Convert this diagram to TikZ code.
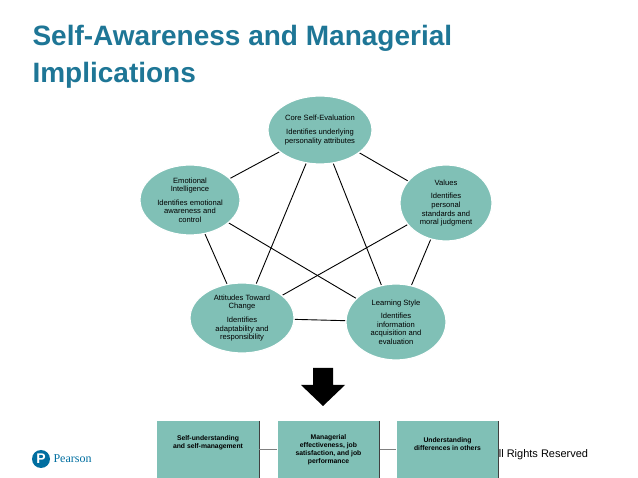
\documentclass[tikz,border=0pt]{standalone}
\usepackage{fontspec}
\setmainfont{Liberation Sans}
\usetikzlibrary{shapes.geometric}
\definecolor{titleblue}{RGB}{30,118,150}
\definecolor{teal1}{RGB}{128,192,182}
\definecolor{pblue}{RGB}{0,110,160}
\begin{document}
\begin{tikzpicture}[x=1pt,y=-1pt,
  ell/.style={ellipse,fill=teal1,draw=white,line width=1.2pt,inner sep=0pt,align=center,font=\fontsize{7.6}{8.6}\selectfont},
  bx/.style={rectangle,fill=teal1,minimum width=102pt,minimum height=58pt,inner sep=2pt,align=center,font=\bfseries\fontsize{6.8}{8}\selectfont},
  ln/.style={line width=0.9pt,black}]
\useasboundingbox (0,0) rectangle (638,478);
\node[anchor=west,font=\bfseries\fontsize{28}{30}\selectfont,text=titleblue] (t1) at (29,38) {Self-Awareness and Managerial};
\node[anchor=west,font=\bfseries\fontsize{28}{30}\selectfont,text=titleblue] (t2) at (29,75) {Implications};
\node[ell,minimum width=104pt,minimum height=68pt] (core) at (320,130) {Core Self-Evaluation\\[5pt]Identifies underlying\\personality attributes};
\node[ell,minimum width=100pt,minimum height=70pt] (emo) at (190,200) {Emotional\\Intelligence\\[5pt]Identifies emotional\\awareness and\\control};
\node[ell,minimum width=92pt,minimum height=76pt] (val) at (446,203) {Values\\[5pt]Identifies\\personal\\standards and\\moral judgment};
\node[ell,minimum width=104pt,minimum height=70pt] (att) at (242,318) {Attitudes Toward\\Change\\[5pt]Identifies\\adaptability and\\responsibility};
\node[ell,minimum width=100pt,minimum height=76pt] (lrn) at (396,322) {Learning Style\\[5pt]Identifies\\information\\acquisition and\\evaluation};
\draw[ln] (core) -- (emo);
\draw[ln] (core) -- (val);
\draw[ln] (emo) -- (att);
\draw[ln] (val) -- (lrn);
\draw[ln] (att) -- (lrn);
\draw[ln] (core) -- (att);
\draw[ln] (core) -- (lrn);
\draw[ln] (emo) -- (lrn);
\draw[ln] (val) -- (att);
\node[ell,minimum width=104pt,minimum height=68pt] at (core) {Core Self-Evaluation\\[5pt]Identifies underlying\\personality attributes};
\node[ell,minimum width=100pt,minimum height=70pt] at (emo) {Emotional\\Intelligence\\[5pt]Identifies emotional\\awareness and\\control};
\node[ell,minimum width=92pt,minimum height=76pt] at (val) {Values\\[5pt]Identifies\\personal\\standards and\\moral judgment};
\node[ell,minimum width=104pt,minimum height=70pt] at (att) {Attitudes Toward\\Change\\[5pt]Identifies\\adaptability and\\responsibility};
\node[ell,minimum width=100pt,minimum height=76pt] at (lrn) {Learning Style\\[5pt]Identifies\\information\\acquisition and\\evaluation};
\fill[black] (313,368) -- (333,368) -- (333,385) -- (345,385) -- (323,406) -- (301,385) -- (313,385) -- cycle;
\node[anchor=west,font=\fontsize{11}{12}\selectfont] (rr) at (488,455) {All Rights Reserved};
\node[bx] (b1) at (208,450) {Self-understanding\\and self-management\\[8pt]};
\node[bx] (b2) at (328.5,450) {Managerial\\effectiveness, job\\satisfaction, and job\\performance};
\node[bx] (b3) at (447.5,450) {Understanding\\differences in others\\[4pt]};
\foreach \b in {b1,b2,b3}{\draw[line width=1pt,black!75] (\b.north east) -- (\b.south east);}
\draw[line width=1pt,gray] (b1) -- (b2);
\draw[line width=1pt,gray] (b2) -- (b3);
\node[circle,fill=pblue,minimum size=18pt,inner sep=0pt,text=white,font=\bfseries\fontsize{14}{14}\selectfont] (logo) at (41,459) {P};
\node[anchor=west,text=pblue,font=\fontsize{12}{13}\selectfont] (pn) at (50,459) {\fontspec{Liberation Serif}Pearson};
\end{tikzpicture}
\end{document}
